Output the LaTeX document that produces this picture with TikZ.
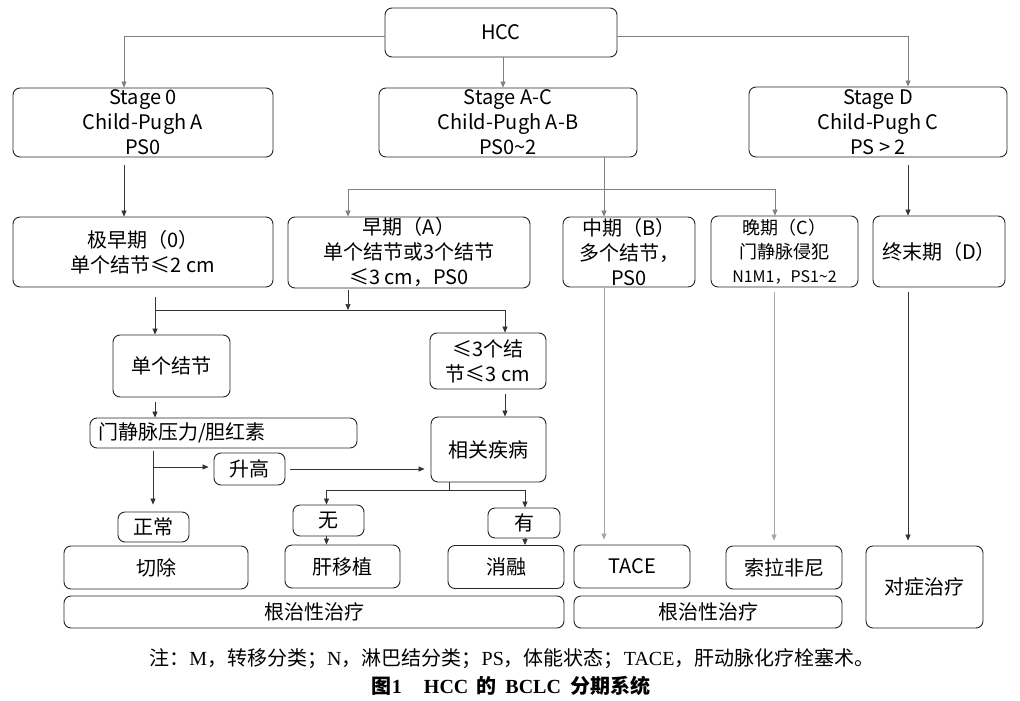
\documentclass[tikz,border=0pt]{standalone}
\usepackage{fontspec}
\setmainfont{Noto Sans CJK SC}
\newfontfamily\serifL{Liberation Serif}
\usetikzlibrary{arrows.meta}
\begin{document}
\begin{tikzpicture}[x=1pt,y=-1pt,
  box/.style={draw=black!85, line width=0.9pt, rounded corners=7pt, align=center, inner sep=0pt,
    font=\fontsize{20}{25}\selectfont},
  arr/.style={draw=black!80, line width=0.7pt, -{Triangle[length=6pt,width=5pt]}},
  ln/.style={draw=black!80, line width=0.7pt},
  grayln/.style={draw=black!50},
  lightln/.style={draw=black!35},
  capt/.style={inner sep=0pt, font=\fontsize{20}{22}\selectfont}]
\fill[white] (0,0) rectangle (1020,701);
\useasboundingbox (0,0) rectangle (1020,701);
% row 0
\node[box, minimum width=232pt, minimum height=49pt] (hcc) at (501,32.5) {HCC};
% row 1
\node[box, minimum width=260pt, minimum height=69pt] (s0) at (143,122.5) {Stage 0\\Child-Pugh A\\PS0};
\node[box, minimum width=258pt, minimum height=69pt] (sac) at (508,122.5) {Stage A-C\\Child-Pugh A-B\\PS0\textasciitilde2};
\node[box, minimum width=258pt, minimum height=70pt] (sd) at (878,122) {Stage D\\Child-Pugh C\\PS > 2};
% row 2
\node[box, minimum width=260pt, minimum height=70pt] (e0) at (143,252) {极早期（0）\\单个结节≤2 cm};
\node[box, minimum width=242pt, minimum height=71pt] (ea) at (409,252.5) {早期（A）\\单个结节或3个结节\\≤3 cm，PS0};
\node[box, minimum width=132pt, minimum height=70pt] (mb) at (629,252) {中期（B）\\多个结节，\\PS0};
\node[box, minimum width=147pt, minimum height=71pt, font=\fontsize{18}{24}\selectfont] (lc) at (784.5,251.5) {晚期（C）\\门静脉侵犯\\{\fontsize{16}{20}\selectfont N1M1，PS1\textasciitilde2}};
\node[box, minimum width=132pt, minimum height=71pt] (td) at (939,251.5) {终末期（D）};
% row 3
\node[box, minimum width=117pt, minimum height=62pt] (single) at (171.5,366) {单个结节};
\node[box, minimum width=116pt, minimum height=56pt] (le3) at (488,361) {≤3个结\\节≤3 cm};
\node[box, minimum width=267pt, minimum height=30pt, text width=251pt, align=left] (pv) at (223.5,433) {门静脉压力/胆红素};
\node[box, minimum width=71pt, minimum height=32pt] (up) at (249.5,469) {升高};
\node[box, minimum width=115pt, minimum height=65pt] (rd) at (488.5,449.5) {相关疾病};
\node[box, minimum width=71pt, minimum height=30pt] (nor) at (153.5,527) {正常};
\node[box, minimum width=71pt, minimum height=31pt] (wu) at (328.5,520.5) {无};
\node[box, minimum width=72pt, minimum height=30pt] (you) at (524,523) {有};
% row 4
\node[box, minimum width=184pt, minimum height=43pt] (qc) at (156,567.5) {切除};
\node[box, minimum width=115pt, minimum height=43pt] (gy) at (342.5,566.5) {肝移植};
\node[box, minimum width=116pt, minimum height=43pt] (xr) at (506,567) {消融};
\node[box, minimum width=116pt, minimum height=43pt] (tace) at (632,566.5) {TACE};
\node[box, minimum width=116pt, minimum height=43pt] (sor) at (784,567.5) {索拉非尼};
\node[box, minimum width=117pt, minimum height=82pt] (sym) at (924.5,587) {对症治疗};
% row 5
\node[box, minimum width=500pt, minimum height=32pt] (cure1) at (314,612) {根治性治疗};
\node[box, minimum width=268pt, minimum height=32pt] (cure2) at (708,612) {根治性治疗};
% connectors from HCC
\draw[arr,grayln] ([yshift=-3.5pt]hcc.west) -| ([xshift=-19pt]s0.north);
\draw[arr,grayln] ([xshift=2pt]hcc.south) -- ([xshift=2pt]hcc.south |- sac.north);
\draw[arr,grayln] ([yshift=-3.5pt]hcc.east) -| ([xshift=30pt]sd.north);
% stage to row 2
\draw[arr, shorten <=8pt] ([xshift=-19pt]s0.south) -- ([xshift=-19pt]e0.north);
\draw[arr,grayln] ([xshift=96pt]sac.south) -- ([xshift=-25pt]mb.north);
\coordinate (br) at ([xshift=96pt,yshift=-32pt]sac.south);
\draw[arr,grayln] (br) -| ([xshift=-61pt]ea.north);
\draw[arr,grayln] (br) -| ([xshift=-9.5pt]lc.north);
\draw[arr, shorten <=8pt] ([xshift=30pt]sd.south) -- ([xshift=-31pt]td.north);
% early branch
\coordinate (jl) at (155,310);
\coordinate (jr) at (505,310);
\coordinate (jm) at (348,310);
\draw[arr, shorten <=2pt] ([xshift=-61pt]ea.south) -- (jm);
\draw[ln] (jl) -- (jr);
\draw[arr, shorten <=10pt] ([xshift=12pt]e0.south) -- ([xshift=-16.5pt]single.north);
\draw[arr] (jr) -- ([xshift=17pt]le3.north);
\draw[arr, shorten <=5pt] ([xshift=-16.5pt]single.south) -- ([xshift=-68.5pt]pv.north);
\draw[arr, shorten <=5pt] ([xshift=17pt]le3.south) -- ([xshift=16.5pt]rd.north);
% portal pressure
\draw[arr, shorten <=3pt, shorten >=7pt] ([xshift=-70.5pt]pv.south) -- ([xshift=-0.5pt]nor.north);
\coordinate (k) at (153,467);
\draw[arr, shorten >=5pt] (k) -- (k -| up.west);
\draw[arr, shorten <=5pt, shorten >=6pt] (up.east) -- (up.east -| rd.west);
% related disease
\coordinate (m) at ([xshift=-39.5pt,yshift=-8pt]rd.south);
\draw[ln] ([xshift=-39.5pt]rd.south) -- (m);
\draw[arr] (m) -| ([xshift=-2pt]wu.north);
\draw[arr] (m) -| ([xshift=1pt]you.north);
\draw[arr] ([xshift=-2pt]wu.south) -- ([xshift=-2pt]wu.south |- gy.north);
\draw[arr] ([xshift=1pt]you.south) -- ([xshift=1pt]you.south |- xr.north);
% long verticals
\draw[arr,lightln, shorten >=5pt] ([xshift=-25pt]mb.south) -- ([xshift=-25pt]mb.south |- tace.north);
\draw[arr,lightln, shorten <=5pt, shorten >=5pt] ([xshift=-10.5pt]lc.south) -- ([xshift=-10.5pt]lc.south |- sor.north);
\draw[arr, shorten <=5pt, shorten >=5pt] ([xshift=-31pt]td.south) -- ([xshift=-31pt]td.south |- sym.north);
% caption
\node[capt] (note) at (512,659) {注：{\serifL M}，转移分类；{\serifL N}，淋巴结分类；{\serifL PS}，体能状态；{\serifL TACE}，肝动脉化疗栓塞术。};
\node[capt, font=\fontsize{20}{22}\selectfont\bfseries] (title) at (511,686) {图{\serifL 1}\hspace{1.1em}{\serifL HCC}\hspace{0.4em}的\hspace{0.45em}{\serifL BCLC}\hspace{0.45em}分期系统};
\end{tikzpicture}
\end{document}
